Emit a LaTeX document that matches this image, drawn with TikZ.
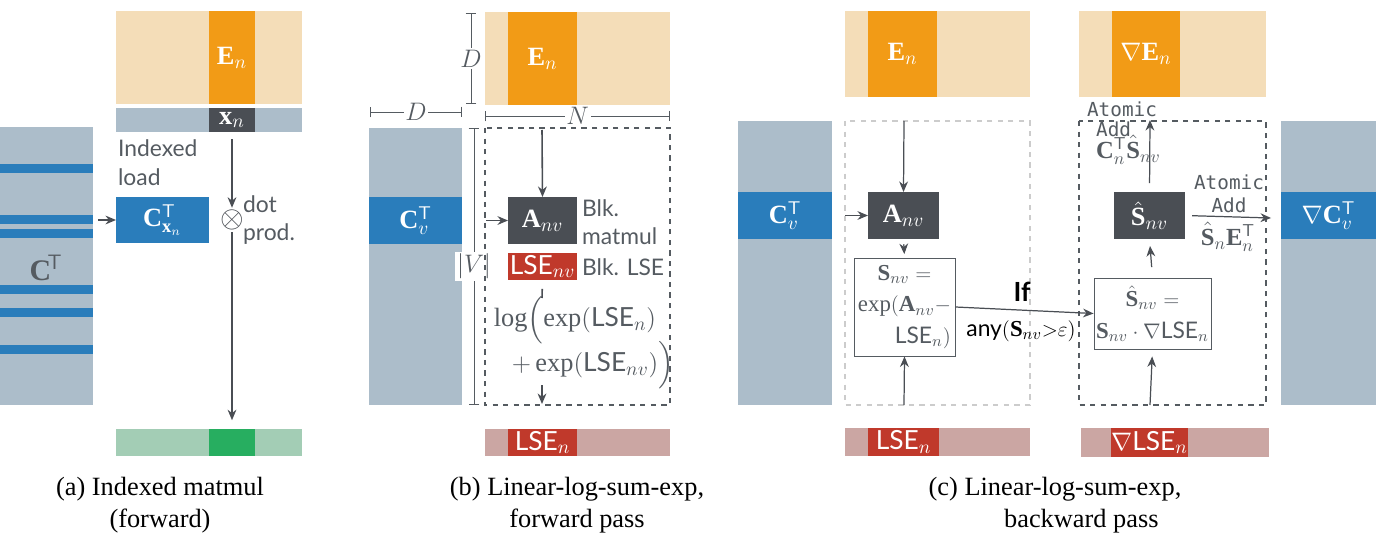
\documentclass[tikz,border=0pt]{standalone}
\usepackage{amsmath,amssymb,bm}
\usepackage{fontspec}
\setmainfont{Liberation Serif}
\newfontfamily\lbl{Lato}
\newfontfamily\mono{DejaVu Sans Mono}
\usetikzlibrary{arrows.meta}
\definecolor{beige}{HTML}{F4DDB8}
\definecolor{orng}{HTML}{F29B16}
\definecolor{slate}{HTML}{ACBDCA}
\definecolor{dark}{HTML}{4A4E54}
\definecolor{cblue}{HTML}{2A7DBB}
\definecolor{lgreen}{HTML}{A3CDB5}
\definecolor{dgreen}{HTML}{27AE60}
\definecolor{pink}{HTML}{CBA6A3}
\definecolor{cred}{HTML}{C0392B}
\definecolor{txt}{HTML}{555B61}
\newcommand{\lse}{\text{\lbl LSE}}
\tikzset{
  blk/.style={inner sep=0pt, outer sep=0pt, text=white, font=\fontsize{15}{17}\selectfont},
  arr/.style={draw=dark, line width=0.9pt, -{Stealth[length=6pt,width=5pt]}},
  dim/.style={draw=txt, line width=0.5pt, {Bar[width=6pt]}-{Bar[width=6pt]}},
  dimlbl/.style={midway, fill=white, text=txt, inner sep=1pt, font=\fontsize{14}{16}\selectfont},
  note/.style={text=txt, font=\lbl\fontsize{13}{16}\selectfont, align=left, inner sep=1pt},
  atom/.style={text=txt, font=\mono\fontsize{11}{13}\selectfont, align=center, inner sep=1pt},
  caption/.style={font=\fontsize{15}{18}\selectfont, align=center}
}
\begin{document}
\begin{tikzpicture}[x=0.02cm, y=-0.02cm]
\useasboundingbox (0,0) rectangle (1376,544);
% (a) indexed matmul
\fill[beige] (116,11) rectangle (302,104);
\fill[slate] (116,108) rectangle (302,132);
\fill[slate] (0,127) rectangle (93,405);
\fill[lgreen] (116,429) rectangle (302,456);
\node[blk, fill=orng, minimum width=0.92cm, minimum height=1.86cm] (Ena) at (232,57.5) {$\mathbf{E}_n$};
\node[blk, fill=dark, minimum width=0.92cm, minimum height=0.48cm] (xna) at (232,120) {$\mathbf{x}_n$};
\foreach \y in {168,219,233,289,312,349}
  \fill[cblue] (0,\y-4.5) rectangle (93,\y+4.5);
\node[text=txt, font=\fontsize{17}{19}\selectfont] (CTa) at (46,268) {$\mathbf{C}^{\!\mathsf{T}}$};
\node[blk, fill=cblue, minimum width=1.86cm, minimum height=0.92cm] (Cxa) at (162.5,220) {$\mathbf{C}^{\mathsf{T}}_{\mathbf{x}_n}$};
\node[text=dark, inner sep=0pt, font=\fontsize{17}{19}\selectfont] (dot) at (232,220) {$\otimes$};
\node[note, anchor=north west] (ldA) at (116,138) {Indexed\\load};
\node[note, anchor=west] (dpA) at (241,220) {dot\\prod.};
\node[blk, fill=dgreen, minimum width=0.92cm, minimum height=0.54cm] (ona) at (232,442.5) {};
\coordinate (ina) at (98,220);
\draw[arr] (ina) -- (Cxa.west);
\draw[arr, shorten <=4pt, shorten >=1pt] (xna.south) -- (dot.north);
\draw[arr, shorten <=1pt, shorten >=5pt] (dot.south) -- (ona.north);
% (b) forward pass
\fill[beige] (485,12) rectangle (670,105);
\fill[slate] (369,128) rectangle (462,405);
\fill[pink] (485,429) rectangle (670,456);
\node[blk, fill=orng, minimum width=1.38cm, minimum height=1.86cm] (Enb) at (542.5,58.5) {$\mathbf{E}_n$};
\node[blk, fill=cblue, minimum width=1.86cm, minimum height=0.94cm] (Cvb) at (415.5,220.5) {$\mathbf{C}^{\mathsf{T}}_{v}$};
\draw[dim] (471,13) -- (471,104) node[dimlbl] {$D$};
\draw[dim] (370,112) -- (462,112) node[dimlbl] {$D$};
\draw[dim] (485,116) -- (670,116) node[dimlbl] {$N$};
\draw[dim] (474,128) -- (474,405) node[dimlbl] {$|V|$};
\draw[txt, dashed, line width=0.9pt] (485,128) rectangle (670,405);
\node[blk, fill=dark, minimum width=1.38cm, minimum height=0.94cm] (Ab) at (542.5,220.5) {$\mathbf{A}_{nv}$};
\node[blk, fill=cred, minimum width=1.38cm, minimum height=0.54cm] (Lb) at (542.5,266.5) {$\lse_{nv}$};
\node[note, anchor=west] (mmb) at (580,222) {Blk.\\matmul};
\node[note, anchor=west] (blb) at (580,267) {Blk. LSE};
\node[text=txt, font=\fontsize{15}{17}\selectfont] (lg1) at (575,320) {$\log\Bigl(\exp(\lse_n)$};
\node[text=txt, font=\fontsize{15}{17}\selectfont] (lg2) at (593,365) {$+\exp(\lse_{nv})\Bigr)$};
\node[blk, fill=cred, minimum width=1.38cm, minimum height=0.54cm] (onb) at (542.5,442.5) {$\lse_n$};
\coordinate (tb) at (542,130);
\coordinate (inb) at (486,220.5);
\coordinate (lb1) at (542,298);
\coordinate (lb2) at (542,385);
\coordinate (lb3) at (542,404);
\draw[arr] (tb) -- (Ab.north);
\draw[arr] (inb) -- (Ab.west);
\draw[draw=dark, line width=0.9pt, shorten <=5pt] (Lb.south) -- (lb1);
\draw[arr] (lb2) -- (lb3);
% (c) backward pass
\fill[beige] (845,11) rectangle (1030,97);
\fill[beige] (1079,11) rectangle (1266,97);
\fill[slate] (738,121) rectangle (832,405);
\fill[slate] (1281,121) rectangle (1376,405);
\fill[pink] (845,428) rectangle (1030,456);
\fill[pink] (1081,428) rectangle (1269,457);
\node[blk, fill=orng, minimum width=1.38cm, minimum height=1.72cm] (Enc) at (902.5,54) {$\mathbf{E}_n$};
\node[blk, fill=orng, minimum width=1.36cm, minimum height=1.72cm] (gEnc) at (1146,54) {$\nabla\mathbf{E}_n$};
\node[blk, fill=cblue, minimum width=1.88cm, minimum height=0.94cm] (Cvc) at (785,215.5) {$\mathbf{C}^{\mathsf{T}}_{v}$};
\node[blk, fill=cblue, minimum width=1.9cm, minimum height=0.94cm] (gCvc) at (1328.5,215.5) {$\nabla\mathbf{C}^{\mathsf{T}}_{v}$};
\draw[black!20, dashed, line width=0.9pt] (845,121) rectangle (1030,405);
\draw[txt, dashed, line width=0.9pt] (1079,121) rectangle (1266,405);
\node[blk, fill=dark, minimum width=1.42cm, minimum height=0.94cm] (Ac) at (903.5,215.5) {$\mathbf{A}_{nv}$};
\node[draw=txt, text=txt, line width=0.5pt, minimum width=2.02cm, minimum height=1.96cm, inner sep=1pt, align=center, font=\fontsize{13}{18}\selectfont] (Sc) at (904.5,307) {$\mathbf{S}_{nv}=$\\$\exp(\mathbf{A}_{nv}{-}$\\\hspace*{1.6em}$\lse_n)$};
\node[draw=txt, text=txt, line width=0.5pt, minimum width=2.34cm, minimum height=1.42cm, inner sep=1pt, align=center, font=\fontsize{13}{18}\selectfont] (hSc) at (1152.5,313.5) {$\hat{\mathbf{S}}_{nv}=$\\$\mathbf{S}_{nv}\cdot\nabla\lse_n$};
\node[blk, fill=dark, minimum width=1.42cm, minimum height=0.94cm] (hc) at (1149.5,215.5) {$\hat{\mathbf{S}}_{nv}$};
\node[font=\lbl\bfseries\fontsize{15}{17}\selectfont, inner sep=1pt] (ifc) at (1022,292) {If};
\node[font=\lbl\fontsize{13}{15}\selectfont, inner sep=0pt] (anyc) at (1021,331) {any$(\mathbf{S}_{nv}{>}\varepsilon)$};
\node[atom] (at1) at (1122,109) {Atomic};
\node[atom, text=txt, align=left, anchor=north west] (at2) at (1094,120) {Add\\[-2pt]\rmfamily\fontsize{14}{16}\selectfont$\mathbf{C}^{\mathsf{T}}_n\hat{\mathbf{S}}_{nv}$};
\node[atom] (at3) at (1229,194) {Atomic\\Add};
\node[atom] (at4) at (1228,237) {\rmfamily\fontsize{14}{16}\selectfont$\hat{\mathbf{S}}_n\mathbf{E}^{\mathsf{T}}_n$};
\node[blk, fill=cred, minimum width=1.42cm, minimum height=0.56cm] (onc) at (903.5,442) {$\lse_n$};
\node[blk, fill=cred, minimum width=1.42cm, minimum height=0.58cm] (gonc) at (1149.5,442.5) {$\nabla\lse_n$};
\coordinate (tc) at (904,121);
\coordinate (inc) at (845,215.5);
\coordinate (bc1) at (904,405);
\coordinate (bc2) at (1150,405);
\coordinate (upc) at (1150,120);
\coordinate (rc) at (1271,218);
\draw[arr, line width=0.7pt] (tc) -- (Ac.north);
\draw[arr, line width=0.7pt] (inc) -- (Ac.west);
\draw[arr, line width=0.7pt, shorten <=3pt, shorten >=2pt] (Ac.south) -- (Sc.north);
\draw[arr, line width=0.7pt] (bc1) -- (Sc.south);
\draw[arr, line width=0.7pt] (Sc.east) -- (hSc.west);
\draw[arr, line width=0.7pt, shorten >=4pt] (bc2) -- (hSc.south);
\draw[arr, line width=0.7pt, shorten <=6pt, shorten >=4pt] (hSc.north) -- (hc.south);
\draw[arr, line width=0.7pt, shorten <=5pt] (hc.north) -- (upc);
\draw[arr, line width=0.7pt, shorten <=4pt] (hc.east) -- (rc);
% captions
\node[caption] (capa) at (160,505) {(a) Indexed matmul\\(forward)};
\node[caption] (capb) at (577,505) {(b) Linear-log-sum-exp,\\forward pass};
\node[caption] (capc) at (1055,505) {(c) Linear-log-sum-exp,\\\hspace*{2em}backward pass};
\end{tikzpicture}
\end{document}
